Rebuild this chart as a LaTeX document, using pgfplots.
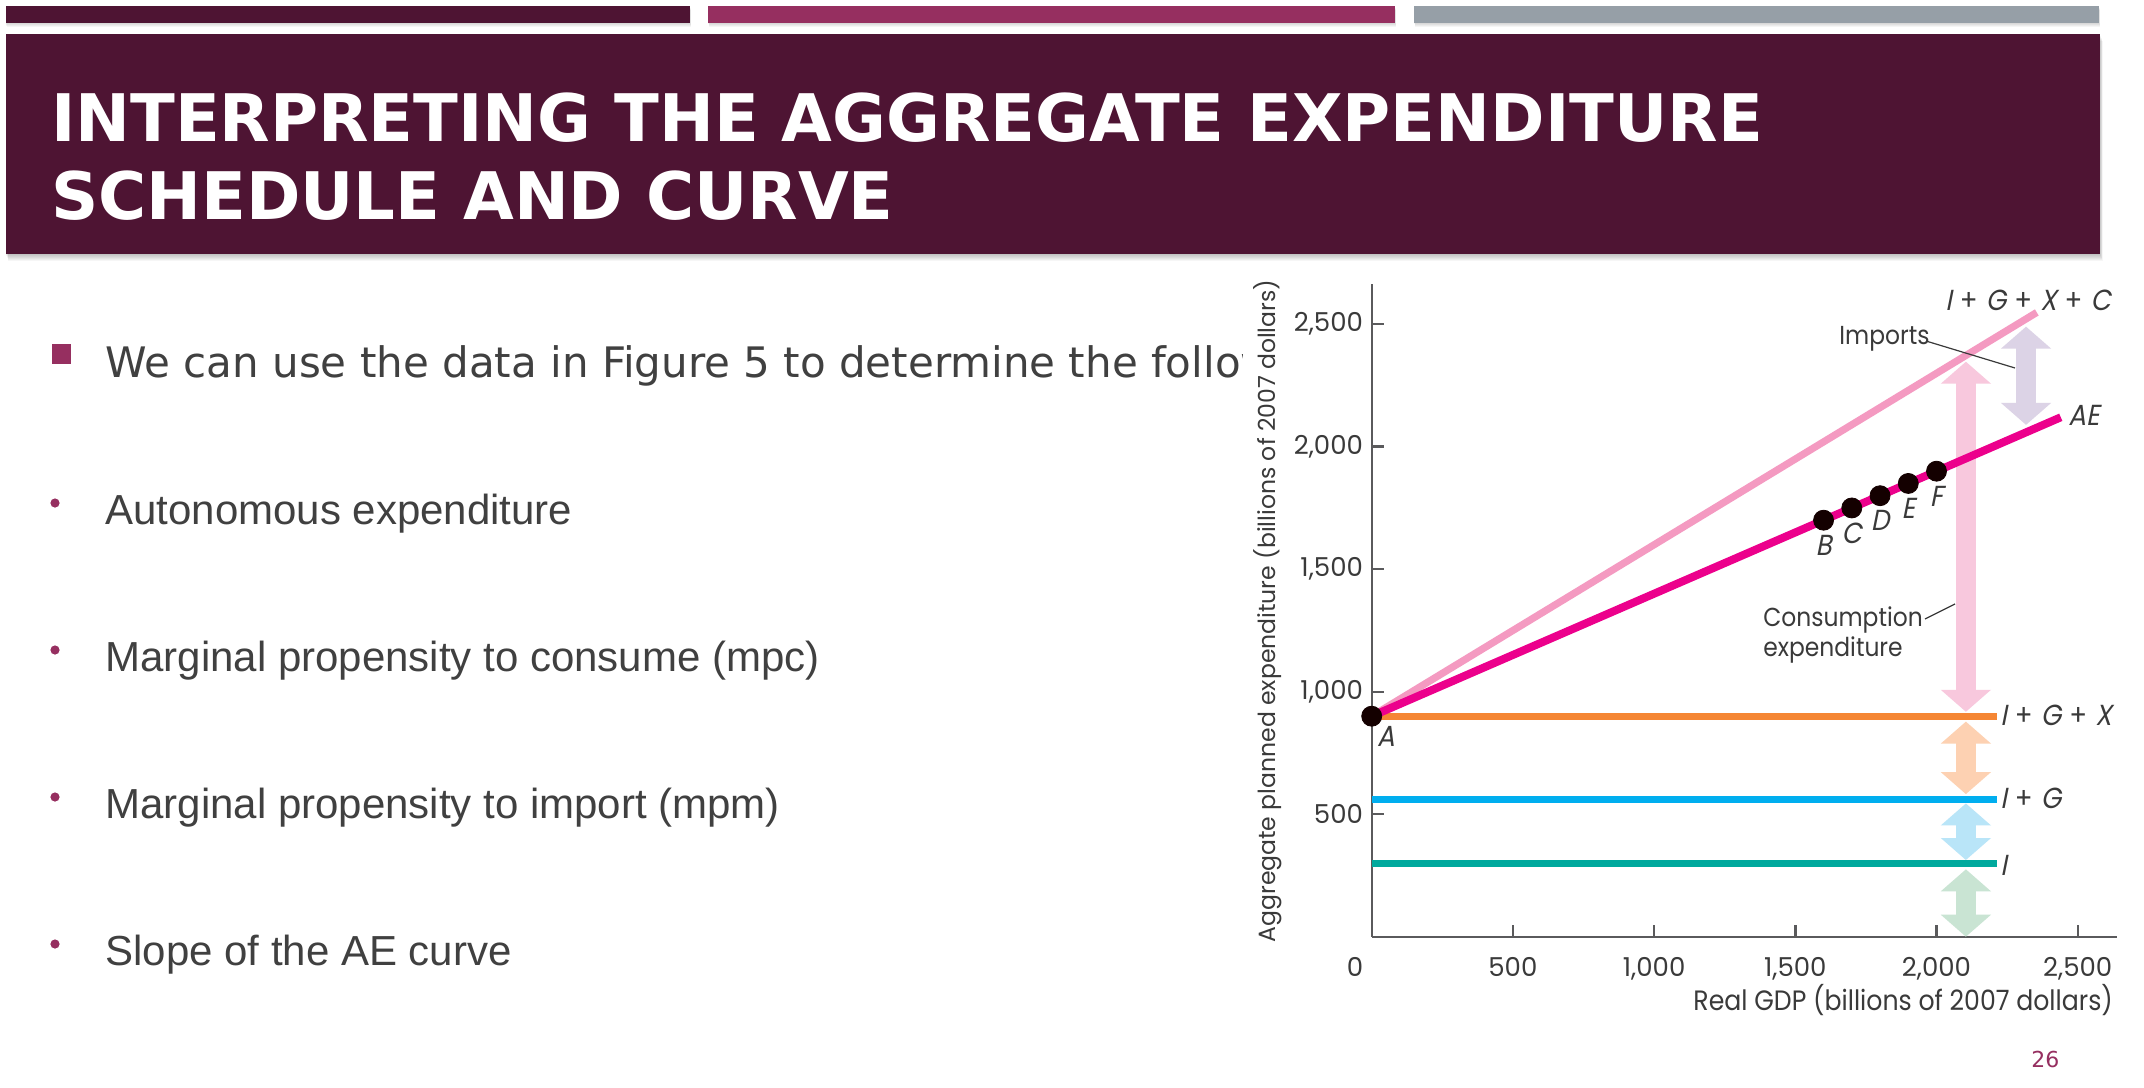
\documentclass[border=0pt]{standalone}
\usepackage{fontspec}
\usepackage{pgfplots}
\pgfplotsset{compat=1.18}
\usetikzlibrary{arrows.meta}

\setmainfont{DejaVu Sans}
\newfontfamily\bodyfont{Liberation Sans}
\newfontfamily\numfont{Poppins}
\newfontfamily\figfont[FakeStretch=0.9]{Poppins}
\newfontfamily\figit[FakeStretch=0.9,FakeSlant=0.2]{Poppins}
\newcommand\lv[1]{{\figit #1}}
\newcommand\pl{\hspace{0.28em}+\hspace{0.28em}}

\definecolor{maroon}{HTML}{4E1433}
\definecolor{berry}{HTML}{962F60}
\definecolor{slate}{HTML}{969FA7}
\definecolor{bodytext}{HTML}{404040}
\definecolor{axisgray}{HTML}{5A5A5C}
\definecolor{labelgray}{HTML}{3A3A3A}
\definecolor{cline}{HTML}{F49AC1}
\definecolor{aeline}{HTML}{EC008C}
\definecolor{ixline}{HTML}{F58634}
\definecolor{igline}{HTML}{00AEEF}
\definecolor{iline}{HTML}{00A99D}
\definecolor{arrC}{HTML}{F8C8DD}
\definecolor{arrM}{HTML}{DCD3E6}
\definecolor{arrX}{HTML}{FDD1B2}
\definecolor{arrG}{HTML}{B9E5F8}
\definecolor{arrI}{HTML}{C9E4D3}

\tikzset{
  dbl/.style={line width=10.3pt, >={Triangle[width=24.5pt,length=11pt]}, <->},
  lbl/.style={anchor=base west, inner sep=0pt, text=labelgray,
              font=\figfont\fontsize{13}{13}\selectfont},
  clbl/.style={anchor=base west, inner sep=0pt, text=labelgray,
              font=\figfont\fontsize{14.5}{14.5}\selectfont},
}

\begin{document}
\begin{tikzpicture}[x=0.5pt, y=-0.5pt]
% slide background
\path[use as bounding box, fill=white] (0,0) rectangle (2144,1088);

% top accent bars
\foreach \d in {1,...,4}{
  \fill[black, opacity=0.04] (5.5+\d*0.3,5.5+\d) rectangle (690+\d*0.3,23+\d);
  \fill[black, opacity=0.04] (708+\d*0.3,5.5+\d) rectangle (1395+\d*0.3,23+\d);
  \fill[black, opacity=0.04] (1414+\d*0.3,5.5+\d) rectangle (2099+\d*0.3,23+\d);
}
\fill[maroon] (5.5,5.5) rectangle (690,23);
\fill[berry] (708,5.5) rectangle (1395,23);
\fill[slate] (1414,5.5) rectangle (2099,23);

% title band with soft shadow
\foreach \d in {1,...,7}{
  \fill[black, opacity=0.035] (5.5+\d*0.4,34+\d) rectangle (2100+\d*0.4,254+\d);
}
\fill[maroon] (5.5,34) rectangle (2100,254);
\node[anchor=base west, inner sep=0pt, text=white,
      font=\fontsize{32.8}{32.8}\selectfont\bfseries] at (50.6,141)
  {INTERPRETING THE AGGREGATE EXPENDITURE};
\node[anchor=base west, inner sep=0pt, text=white,
      font=\fontsize{32.8}{32.8}\selectfont\bfseries] at (50.6,219)
  {SCHEDULE AND CURVE};

% body text
\fill[berry] (52,344) rectangle (71,364);
\node[anchor=base west, inner sep=0pt, text=bodytext,
      font=\fontsize{21}{21}\selectfont] at (105,377)
  {We can use the data in Figure 5 to determine the following:};
\foreach \yb/\txt in {524/Autonomous expenditure,
                      671/Marginal propensity to consume (mpc),
                      818/Marginal propensity to import (mpm),
                      965/Slope of the AE curve}{
  \fill[berry] (55,\yb-21) circle[radius=2.3pt];
  \node[anchor=base west, inner sep=0pt, text=bodytext,
        font=\bodyfont\fontsize{21}{21}\selectfont] at (105,\yb) {\txt};
}

% figure panel
\fill[white] (1243,270) rectangle (2144,1030);

\begin{axis}[
  at={(685.85pt,-468.35pt)}, anchor=south west,
  scale only axis, width=372.5pt, height=326.35pt,
  xmin=0, xmax=2638, ymin=0, ymax=2664,
  axis lines*=left,
  axis line style={axisgray, line width=1.2pt},
  xtick={500,1000,1500,2000,2500},
  xticklabels={500,{1,000},{1,500},{2,000},{2,500}},
  ytick={500,1000,1500,2000,2500},
  yticklabels={500,{1,000},{1,500},{2,000},{2,500}},
  tick align=inside, major tick length=6pt,
  tick style={axisgray, line width=1.2pt},
  ticklabel style={font=\numfont\fontsize{13}{13}\selectfont, text=labelgray, inner sep=0pt},
  xticklabel style={anchor=north, yshift=-10pt},
  yticklabel style={anchor=east, xshift=-4.2pt},
  clip=false,
]
% component arrows
\addplot[arrI, dbl] coordinates {(2104,0) (2104,275)};
\addplot[arrG, dbl] coordinates {(2104,313) (2104,544)};
\addplot[arrX, dbl] coordinates {(2104,582) (2104,878)};
\addplot[arrC, dbl] coordinates {(2104,918) (2104,2347)};
\addplot[arrM, dbl] coordinates {(2317,2089) (2317,2490)};
% autonomous components
\addplot[iline, line width=3.7pt] coordinates {(0,300) (2213,300)};
\addplot[igline, line width=3.7pt] coordinates {(0,560) (2213,560)};
\addplot[ixline, line width=3.7pt] coordinates {(0,900) (2213,900)};
% I + G + X + C and AE
\addplot[cline, line width=3.6pt] coordinates {(0,900) (2355,2548)};
\addplot[aeline, line width=4pt] coordinates {(0,900) (2440,2120)};
% schedule points A to F
\addplot[only marks, mark=*, mark size=5pt, color=black!92!red]
  coordinates {(0,900) (1600,1700) (1700,1750) (1800,1800) (1900,1850) (2000,1900)};
\foreach \px/\py/\nm in {1600/1700/B,1700/1750/C,1800/1800/D,1900/1850/E,2000/1900/F}{
  \edef\tmp{\noexpand\node[text=labelgray, inner sep=0pt,
     font=\noexpand\figit\noexpand\fontsize{14.5}{14.5}\noexpand\selectfont, yshift=-12.5pt]
     at (axis cs:\px,\py) {\nm};}
  \tmp
}
\node[text=labelgray, inner sep=0pt, anchor=base west,
      font=\figit\fontsize{14.5}{14.5}\selectfont, xshift=2.5pt, yshift=-15pt]
  at (axis cs:0,900) {A};
\node[text=labelgray, inner sep=0pt, anchor=north,
      font=\numfont\fontsize{13}{13}\selectfont, xshift=-8.3pt, yshift=-10pt]
  at (axis cs:0,0) {0};
\end{axis}

% curve labels
\node[clbl] at (1945,310) {\lv{I}\pl\lv{G}\pl\lv{X}\pl\lv{C}};
\node[lbl] at (1839,344) {Imports};
\draw[labelgray, line width=0.6pt] (1926,341) -- (2015,368);
\node[clbl] at (2068,425.7) {\lv{AE}};
\node[lbl] at (1763,626.7) {Consumption};
\node[lbl] at (1763,656.7) {expenditure};
\draw[labelgray, line width=0.6pt] (1925,619) -- (1955,604);
\node[clbl] at (2000,725) {\lv{I}\pl\lv{G}\pl\lv{X}};
\node[clbl] at (2000,808) {\lv{I}\pl\lv{G}};
\node[clbl] at (2000,875) {\lv{I}};

% axis titles
\node[anchor=base east, inner sep=0pt, text=labelgray,
      font=\figfont\fontsize{14}{14}\selectfont] at (2113.3,1010)
  {Real GDP (billions of 2007 dollars)};
\node[rotate=90, inner sep=0pt, text=labelgray,
      font=\numfont\fontsize{11.76}{11.76}\selectfont] at (1268,611)
  {Aggregate planned expenditure (billions of 2007 dollars)};

% page number
\node[anchor=base west, inner sep=0pt, text=berry,
      font=\fontsize{11}{11}\selectfont] at (2031,1067) {26};
\end{tikzpicture}
\end{document}
